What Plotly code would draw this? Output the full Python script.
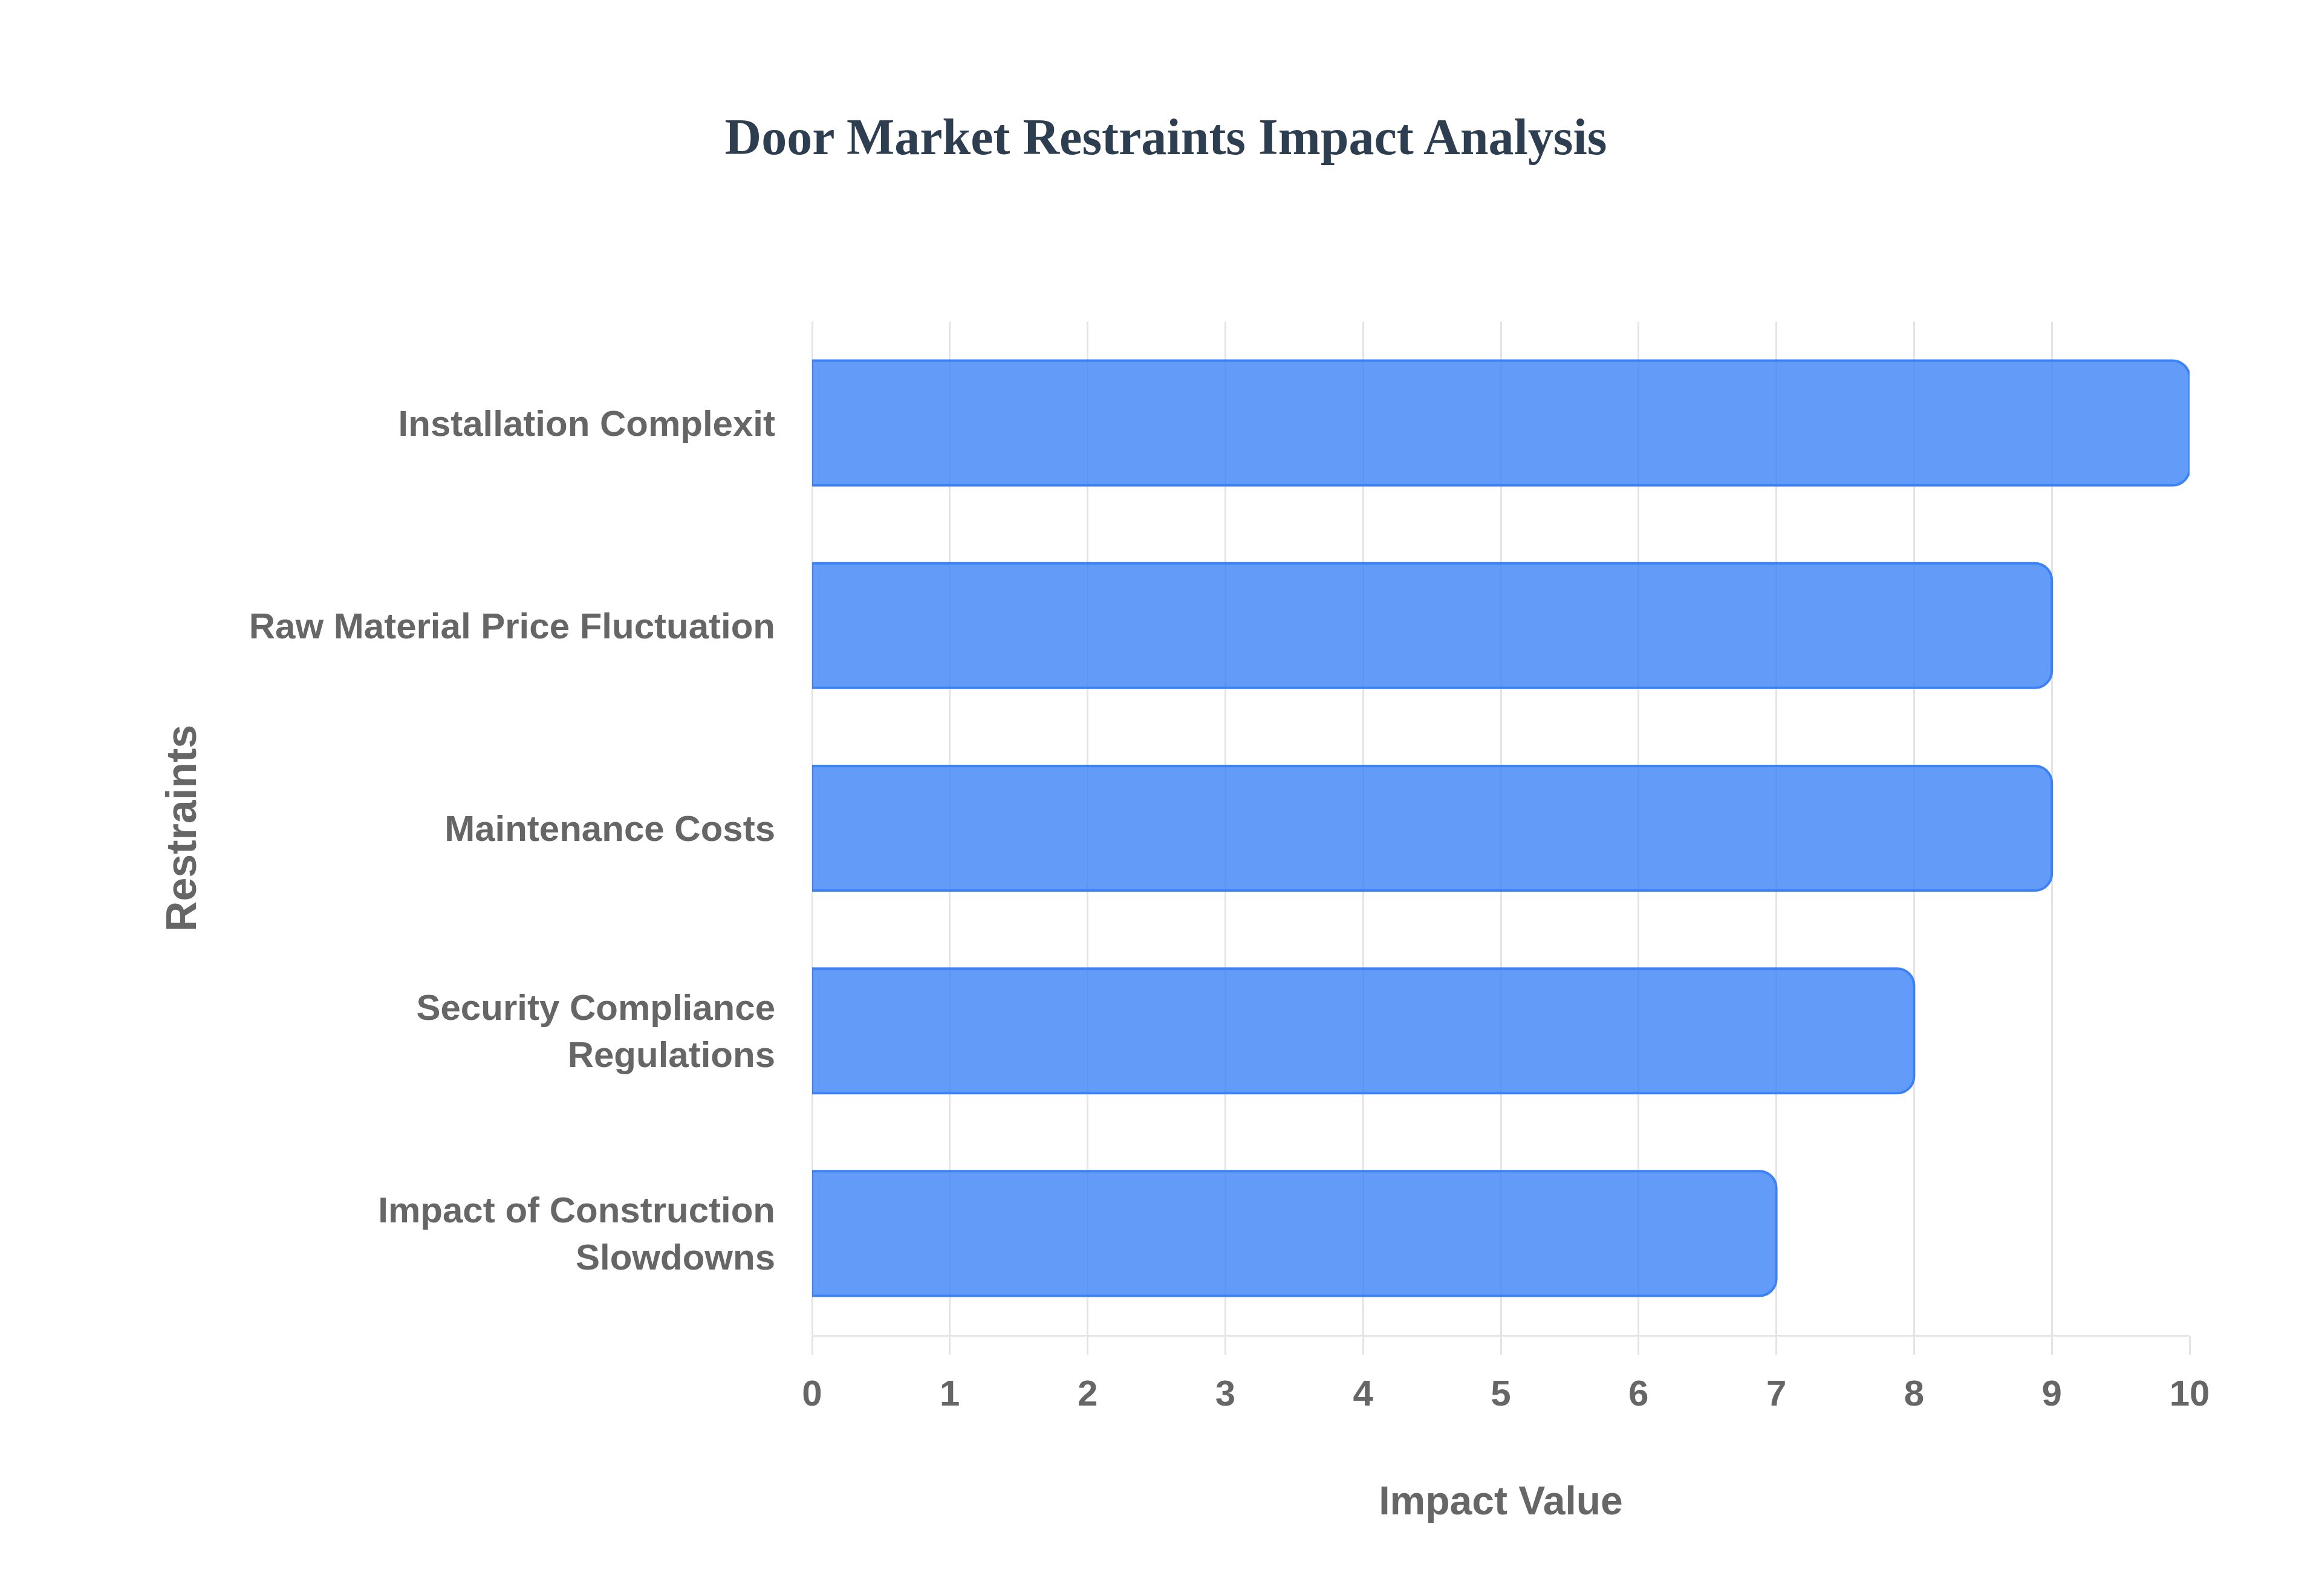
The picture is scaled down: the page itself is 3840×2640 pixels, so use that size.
import plotly.graph_objects as go

# Data
restraints = [
    "Installation Complexit",
    "Raw Material Price Fluctuation",
    "Maintenance Costs",
    "Security Compliance<br>Regulations",
    "Impact of Construction<br>Slowdowns",
]
impact_values = [10, 9, 9, 8, 7]
x_ticks = list(range(0, 11))

TEXT_GREY = "#666666"
GRID_GREY = "#e5e5e5"


def create_plot():
    """Horizontal bar chart of restraint impact values"""
    fig = go.Figure(
        go.Bar(
            x=impact_values,
            y=restraints,
            orientation="h",
            marker=dict(
                color="rgba(59,130,246,0.8)",
                line=dict(color="rgb(59,130,246)", width=4),
                cornerradius=28,
            ),
            hoverinfo="x+y",
        )
    )

    fig.update_layout(
        width=3840,
        height=2640,
        paper_bgcolor="white",
        plot_bgcolor="white",
        margin=dict(l=1335, r=227, t=524, b=440),
        bargap=0.385,
        showlegend=False,
        title=dict(
            text="<b>Door Market Restraints Impact Analysis</b>",
            font=dict(family="Liberation Serif, Times New Roman, serif", size=84, color="#2c3e50"),
            x=0.5,
            xanchor="center",
            y=1 - 218 / 2640,
            yanchor="middle",
        ),
    )

    fig.update_xaxes(
        range=[0, 10],
        tickvals=x_ticks,
        showgrid=True,
        gridcolor=GRID_GREY,
        gridwidth=3,
        zeroline=True,
        zerolinecolor=GRID_GREY,
        zerolinewidth=3,
        showline=True,
        linecolor=GRID_GREY,
        linewidth=3,
        ticks="outside",
        ticklen=30,
        tickwidth=3,
        tickcolor=GRID_GREY,
        ticklabelstandoff=12,
        tickfont=dict(family="Liberation Sans, Arial, sans-serif", size=60, color=TEXT_GREY, weight="bold"),
        title=dict(
            text="<b>Impact Value</b>",
            font=dict(family="Liberation Sans, Arial, sans-serif", size=66, color=TEXT_GREY),
            standoff=122,
        ),
    )

    fig.update_yaxes(
        autorange="reversed",
        showgrid=False,
        zeroline=False,
        showline=False,
        ticks="",
        ticklabelstandoff=60,
        tickfont=dict(family="Liberation Sans, Arial, sans-serif", size=60, color=TEXT_GREY, weight="bold"),
        title=dict(
            text="<b>Restraints</b>",
            font=dict(family="Liberation Sans, Arial, sans-serif", size=70, color=TEXT_GREY),
            standoff=64,
        ),
    )

    return fig


def main():
    fig = create_plot()
    fig.write_html("out.html")


if __name__ == "__main__":
    main()
